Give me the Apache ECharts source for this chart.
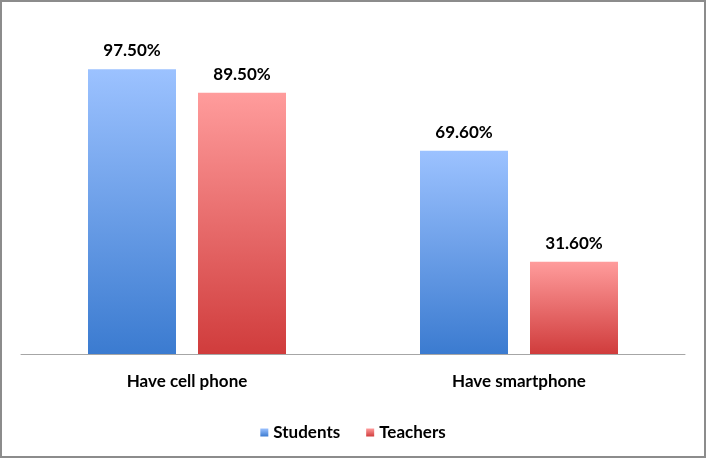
<!DOCTYPE html>
<html lang="en">
<head>
    <meta charset="UTF-8">
    <title>Cell phone ownership</title>
    <style>
        html, body { margin: 0; padding: 0; background: #fff; }
        #myChart { width: 706px; height: 458px; box-sizing: border-box; border: 2px solid #8c8c8c; }
    </style>
</head>
<body>
    <div id="myChart"></div>
</body>
<script src="https://cdn.jsdelivr.net/npm/echarts@6/dist/echarts.min.js"></script>
<script>
    let categories = ['Have cell phone', 'Have smartphone'];
    let students = [97.5, 69.6];
    let teachers = [89.5, 31.6];

    let font = 'Lato, "Open Sans", sans-serif';

    function grad(top, bottom) {
      return new echarts.graphic.LinearGradient(0, 0, 0, 1, [
        { offset: 0, color: top },
        { offset: 1, color: bottom }
      ]);
    }

    let chart = echarts.init(document.getElementById('myChart'));
    let labelStyle = {
      show: true,
      position: 'top',
      distance: 10,
      formatter: p => p.value.toFixed(2) + '%',
      color: '#000',
      fontWeight: 'bold',
      fontSize: 17,
      fontFamily: font
    };
    let option = {
      animation: false,
      grid: { left: 19, right: 19, top: 60, bottom: 102 },
      legend: {
        bottom: 10,
        icon: 'rect',
        itemWidth: 8,
        itemHeight: 8,
        itemGap: 26,
        textStyle: { fontWeight: 'bold', fontSize: 17, fontFamily: font, color: '#000' },
        data: [
          { name: 'Students', itemStyle: { color: grad('#9cc2ff', '#3b7bd0') } },
          { name: 'Teachers', itemStyle: { color: grad('#ff9c9c', '#d03c3c') } }
        ]
      },
      xAxis: {
        type: 'category',
        data: categories,
        axisLine: { lineStyle: { color: '#a6a6a6', width: 1 } },
        axisTick: { show: false },
        axisLabel: { margin: 19, color: '#000', fontWeight: 'bold', fontSize: 17, fontFamily: font }
      },
      yAxis: {
        type: 'value',
        min: 0,
        max: 100,
        show: false,
        splitLine: { show: false }
      },
      series: [
        {
          name: 'Students',
          type: 'bar',
          data: students,
          barWidth: 88,
          barGap: '25%',
          itemStyle: { color: grad('#9cc2ff', '#3b7bd0') },
          label: labelStyle
        },
        {
          name: 'Teachers',
          type: 'bar',
          data: teachers,
          barWidth: 88,
          itemStyle: { color: grad('#ff9c9c', '#d03c3c') },
          label: labelStyle
        }
      ]
    };
    chart.setOption(option);
</script>
</html>
